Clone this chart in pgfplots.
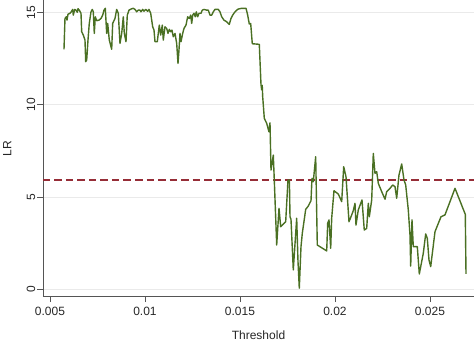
\documentclass[border=0pt]{standalone}
\usepackage{pgfplots}
\pgfplotsset{compat=1.18}
\usepackage{fontspec}
\setmainfont{Liberation Sans}
\definecolor{lrgreen}{RGB}{74,112,35}
\definecolor{critred}{RGB}{150,45,55}
\definecolor{gridc}{RGB}{234,234,234}
\definecolor{axc}{RGB}{85,85,85}
\begin{document}
\begin{tikzpicture}
\begin{axis}[
  scale only axis,
  width=431bp, height=296.7bp,
  xmin=0.004632, xmax=0.027316,
  ymin=-0.40, ymax=15.67,
  axis lines*=left,
  axis line style={axc, line width=0.9bp},
  scaled x ticks=false,
  xtick={0.005,0.01,0.015,0.02,0.025},
  xticklabels={0.005,0.01,0.015,0.02,0.025},
  ytick={0,5,10,15},
  tick align=outside,
  major tick length=5.5bp,
  tick style={axc, line width=0.8bp},
  ymajorgrids,
  grid style={gridc, line width=0.8bp},
  /pgf/number format/assume math mode=true,
  ticklabel style={font=\fontsize{12bp}{14bp}\selectfont, text=black!85},
  yticklabel style={rotate=90, anchor=south, inner sep=1bp, yshift=1bp},
  xticklabel style={inner sep=2bp, yshift=-3bp},
  xlabel={Threshold},
  ylabel={LR},
  label style={font=\fontsize{12bp}{14bp}\selectfont, text=black!85},
  xlabel style={yshift=-9.5bp},
  ylabel style={yshift=11bp},
  clip=true,
]
\addplot[critred, line width=1.4bp, dash pattern=on 7.5bp off 4bp] coordinates {(0.004632,5.93) (0.027316,5.93)};
\addplot[lrgreen, line width=1.4bp, line join=round] coordinates {
(0.005737,13.0) (0.005789,14.67) (0.005858,14.76) (0.005895,14.58) (0.005947,14.9)
(0.006053,14.95) (0.006121,15.03) (0.006195,15.16) (0.006226,14.85) (0.006300,15.16)
(0.006368,15.12) (0.006437,15.0) (0.006474,15.2) (0.006542,15.12) (0.006632,14.95)
(0.006668,13.95) (0.006753,13.77) (0.006842,13.5) (0.006879,12.33) (0.006932,12.42)
(0.007000,13.5) (0.007068,14.4) (0.007158,15.03) (0.007226,15.16) (0.007279,15.03)
(0.007332,13.86) (0.007384,14.76) (0.007458,14.55) (0.007579,14.58) (0.007684,14.67)
(0.007774,14.85) (0.007842,15.12) (0.007911,15.22) (0.007984,13.86) (0.008037,14.4)
(0.008121,13.5) (0.008247,13.0) (0.008300,14.4) (0.008421,14.67) (0.008510,15.16)
(0.008595,14.95) (0.008684,13.32) (0.008774,13.86) (0.008858,14.76) (0.008911,13.86)
(0.009000,13.41) (0.009068,14.85) (0.009158,15.12) (0.009263,15.18) (0.009384,15.22)
(0.009474,15.16) (0.009563,15.03) (0.009647,15.12) (0.009737,15.12) (0.009789,15.03)
(0.009879,15.16) (0.009947,15.06) (0.010037,15.16) (0.010142,15.06) (0.010211,15.16)
(0.010300,14.95) (0.010405,14.22) (0.010474,14.04) (0.010526,13.41) (0.010647,13.41)
(0.010753,14.31) (0.010826,13.77) (0.010911,14.31) (0.010963,13.5) (0.011053,14.22)
(0.011142,14.13) (0.011211,13.86) (0.011279,14.08) (0.011353,13.95) (0.011421,14.04)
(0.011489,13.68) (0.011579,13.86) (0.011668,13.32) (0.011737,12.24) (0.011789,12.96)
(0.011842,13.86) (0.011895,13.41) (0.011984,13.86) (0.012053,14.13) (0.012158,14.31)
(0.012247,14.76) (0.012332,14.67) (0.012405,14.85) (0.012458,14.4) (0.012511,14.85)
(0.012579,14.95) (0.012647,14.76) (0.012700,15.03) (0.012774,14.76) (0.012842,14.95)
(0.012947,14.95) (0.013016,15.12) (0.013105,15.16) (0.013247,15.12) (0.013332,15.12)
(0.013421,14.85) (0.013510,14.85) (0.013595,15.03) (0.013684,15.16) (0.013858,15.16)
(0.013947,15.03) (0.014037,14.76) (0.014158,14.58) (0.014300,14.49) (0.014437,14.35)
(0.014526,14.67) (0.014616,14.85) (0.014700,14.98) (0.014826,15.12) (0.014911,15.18)
(0.015089,15.22) (0.015316,15.22) (0.015405,14.85) (0.015489,14.37) (0.015563,14.4)
(0.015647,13.3) (0.016016,13.27) (0.016105,11.1) (0.016142,10.8) (0.016170,11.05)
(0.016195,10.43) (0.016279,9.26) (0.016405,8.99) (0.016526,8.53) (0.016579,9.02)
(0.016632,6.46) (0.016753,7.27) (0.016805,5.92) (0.016932,2.40) (0.017053,4.39)
(0.017142,3.39) (0.017405,3.66) (0.017526,5.92) (0.017600,5.92) (0.017632,3.93)
(0.017684,3.79) (0.017805,1.05) (0.017984,3.85) (0.018053,1.5) (0.018121,0.06)
(0.018211,2.31) (0.018279,3.03) (0.018458,4.33) (0.018595,4.51) (0.018737,4.8)
(0.018789,6.01) (0.018858,5.83) (0.018984,7.18) (0.019068,2.40) (0.019563,2.08)
(0.019616,3.58) (0.019684,3.76) (0.019774,2.22) (0.019826,3.85) (0.019947,5.34)
(0.020174,5.16) (0.020353,4.75) (0.020458,6.64) (0.020579,6.10) (0.020737,3.66)
(0.020842,3.93) (0.020963,4.26) (0.021053,4.66) (0.021105,3.48) (0.021226,4.30)
(0.021421,4.84) (0.021542,3.21) (0.021668,3.30) (0.021753,4.66) (0.021805,3.93)
(0.021932,4.84) (0.022016,7.36) (0.022105,6.28) (0.022195,6.37) (0.022279,5.74)
(0.022458,5.29) (0.022632,4.88) (0.022721,5.29) (0.022895,5.47) (0.023037,5.65)
(0.023158,5.56) (0.023247,4.93) (0.023368,6.19) (0.023511,6.79) (0.023632,5.92)
(0.023721,5.65) (0.023858,4.30) (0.023947,2.94) (0.023984,1.26) (0.024053,3.76)
(0.024121,2.31) (0.024332,2.31) (0.024437,0.83) (0.024647,1.95) (0.024774,3.0)
(0.024858,2.76) (0.024947,1.59) (0.025037,1.23) (0.025263,3.12) (0.025579,3.93)
(0.025789,4.03) (0.026316,5.47) (0.026858,4.06) (0.026895,0.83)
};
\end{axis}
\pgfresetboundingbox
\path (current axis.south west) ++(-43bp,-45.3bp) rectangle (current axis.north east);
\end{tikzpicture}
\end{document}
